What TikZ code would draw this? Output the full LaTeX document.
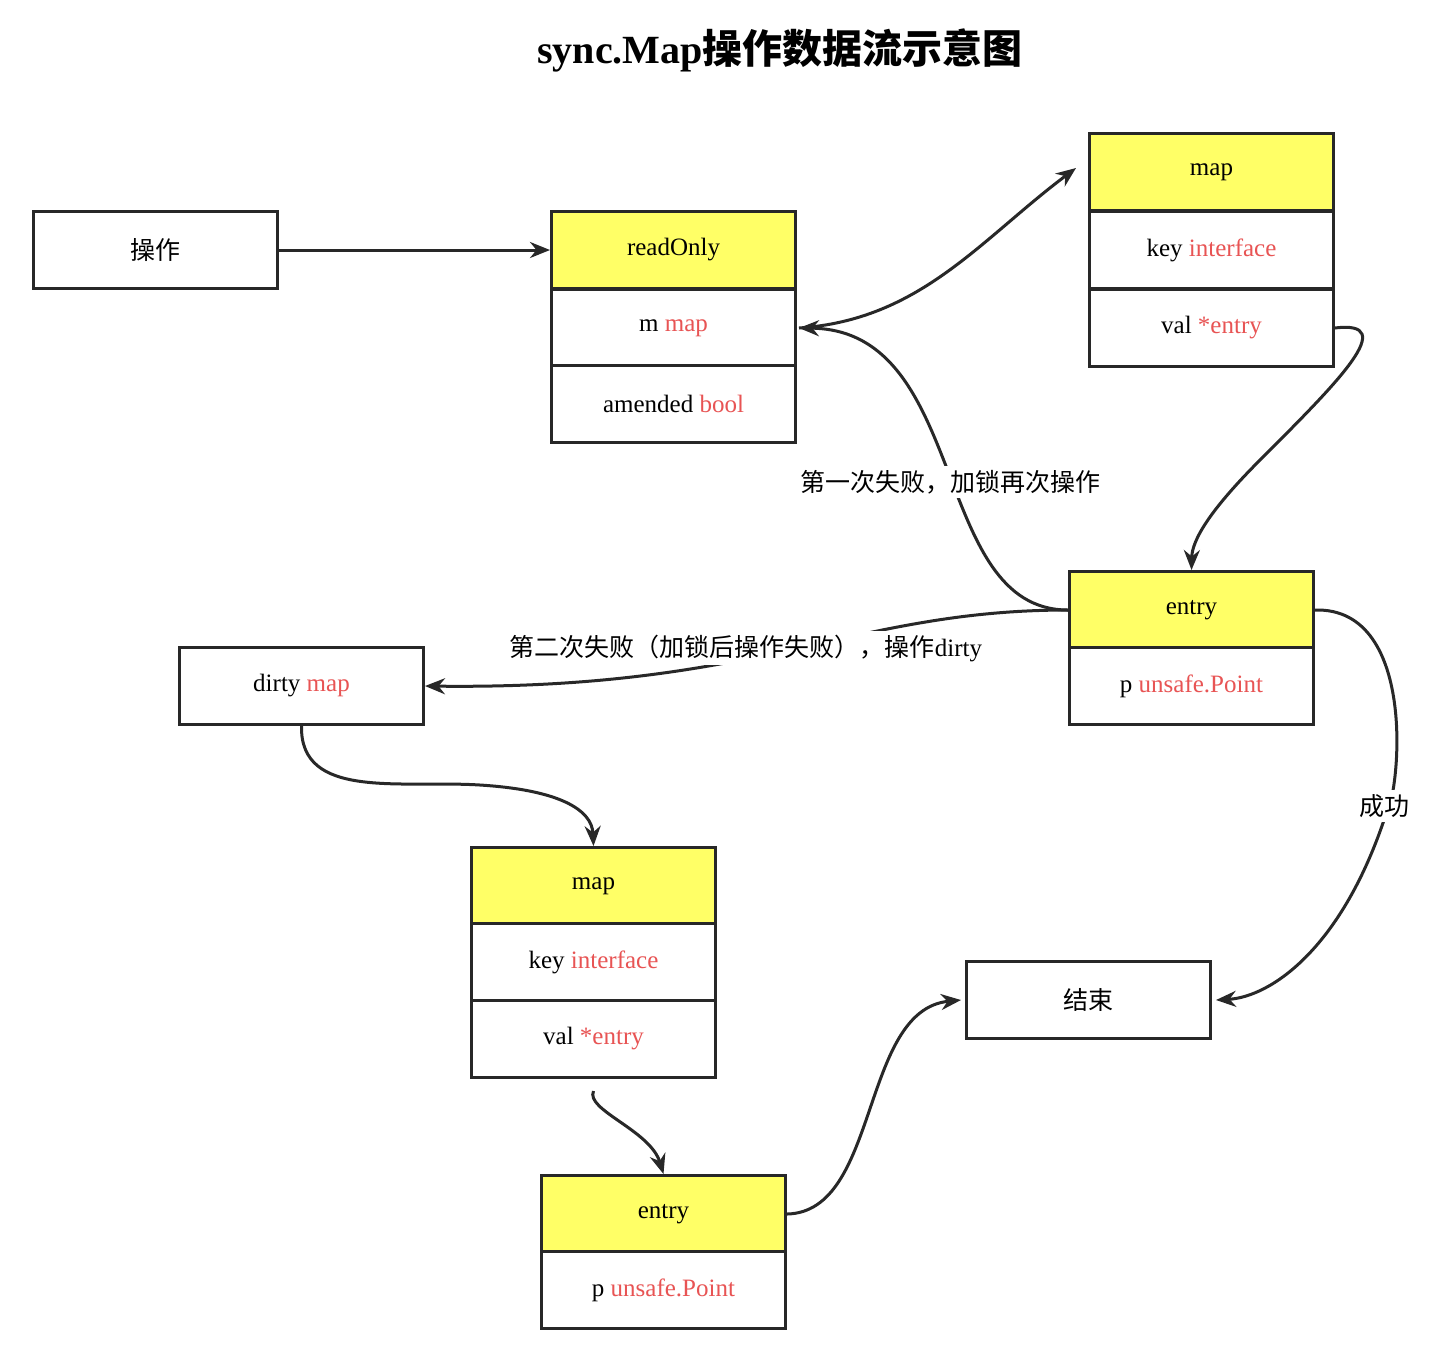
\documentclass[tikz,border=0pt]{standalone}
\usepackage{fontspec}
\setmainfont{Liberation Serif}
\newfontfamily\cjk{Noto Sans CJK SC}
\usetikzlibrary{arrows.meta}
\definecolor{ylw}{RGB}{255,255,102}
\definecolor{rd}{RGB}{232,84,84}
\definecolor{ln}{RGB}{40,40,40}
\newcommand{\R}[1]{\textcolor{rd}{#1}}
\tikzset{
  cell/.style={draw=ln,line width=1.5pt,minimum width=122pt,minimum height=38.5pt,inner sep=0pt,font=\fontsize{12.5}{14}\selectfont,anchor=north west},
  head/.style={cell,fill=ylw},
  plain/.style={cell,fill=white},
  conn/.style={draw=ln,line width=1.5pt,-{Stealth[length=10pt,width=8pt]}},
  lbl/.style={fill=white,inner sep=2pt,font=\fontsize{12.5}{14}\selectfont}
}
\begin{document}
\begin{tikzpicture}[x=0.5pt,y=-0.5pt]
\useasboundingbox[fill=white] (0,0) rectangle (1444,1362);
\node[font=\bfseries\fontsize{20}{24}\selectfont] (title) at (780,50) {sync.Map\cjk\bfseries 操作数据流示意图};
\node[plain] (op) at (32,210) {\cjk 操作};
\node[head] (ro) at (550,210) {readOnly};
\node[plain] (rom) at (550,288) {m \R{map}};
\node[plain] (roa) at (550,364) {amended \R{bool}};
\node[head] (tm) at (1088,132) {map};
\node[plain] (tmk) at (1088,210) {key \R{interface}};
\node[plain] (tmv) at (1088,288) {val \R{*entry}};
\node[head] (re) at (1068,570) {entry};
\node[plain] (rep) at (1068,646) {p \R{unsafe.Point}};
\node[plain] (dm) at (178,646) {dirty \R{map}};
\node[head] (bm) at (470,846) {map};
\node[plain] (bmk) at (470,922) {key \R{interface}};
\node[plain] (bmv) at (470,999) {val \R{*entry}};
\node[head] (be) at (540,1174) {entry};
\node[plain] (bep) at (540,1250) {p \R{unsafe.Point}};
\node[plain] (end) at (965,960) {\cjk 结束};
\draw[conn] (op.east) -- (ro.west);
\draw[conn] ([xshift=1pt]rom.east) .. controls (920,320) and (980,240) .. ([xshift=-6pt,yshift=2pt]tm.west);
\draw[conn] (re.west) .. controls (930,610) and (970,330) .. ([xshift=1pt]rom.east);
\node[lbl] (l1) at (950,482) {\cjk 第一次失败，加锁再次操作};
\draw[conn] (tmv.east) .. controls (1400,320) and (1340,380) .. (1260,460) .. controls (1210,510) and (1192,540) .. (re.north);
\draw[conn] (re.west) .. controls (850,610) and (760,690) .. (dm.east);
\node[lbl] (l2) at (746,648) {\cjk 第二次失败（加锁后操作失败），操作\rmfamily dirty};
\draw[conn] (dm.south) .. controls (300,800) and (400,780) .. (480,785) .. controls (560,790) and (592,810) .. (bm.north);
\draw[conn] ([yshift=-6pt]bmv.south) .. controls (585,1110) and (650,1130) .. (be.north);
\draw[conn] (be.east) .. controls (880,1212) and (860,1010) .. ([xshift=-2pt]end.west);
\draw[conn] (re.east) .. controls (1420,607) and (1400,800) .. (1384,820) .. controls (1340,950) and (1270,997) .. ([xshift=2pt]end.east);
\node[lbl] (l3) at (1384,806) {\cjk 成功};
\end{tikzpicture}
\end{document}
